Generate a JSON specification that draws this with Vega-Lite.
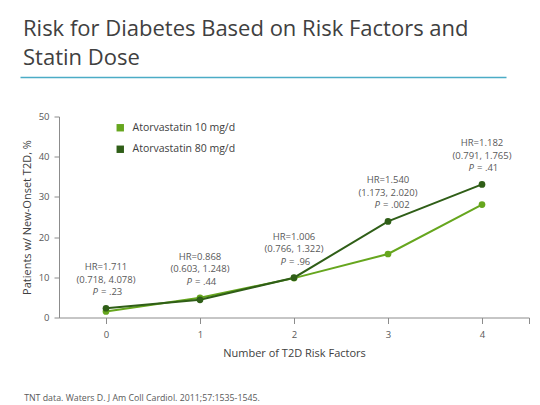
{
  "$schema": "https://vega.github.io/schema/vega-lite/v6.json",
  "background": "white",
  "padding": {"left": 20, "top": 18, "right": 5, "bottom": 0},
  "config": {
    "view": {"stroke": null},
    "font": "Open Sans",
    "axis": {"labelFont": "Open Sans", "titleFont": "Open Sans", "grid": false}
  },
  "datasets": {
    "rates": [
      {"x": 0, "series": "Atorvastatin 10 mg/d", "value": 1.5},
      {"x": 1, "series": "Atorvastatin 10 mg/d", "value": 4.9},
      {"x": 2, "series": "Atorvastatin 10 mg/d", "value": 9.8},
      {"x": 3, "series": "Atorvastatin 10 mg/d", "value": 15.8},
      {"x": 4, "series": "Atorvastatin 10 mg/d", "value": 28.1},
      {"x": 0, "series": "Atorvastatin 80 mg/d", "value": 2.3},
      {"x": 1, "series": "Atorvastatin 80 mg/d", "value": 4.4},
      {"x": 2, "series": "Atorvastatin 80 mg/d", "value": 9.9},
      {"x": 3, "series": "Atorvastatin 80 mg/d", "value": 23.9},
      {"x": 4, "series": "Atorvastatin 80 mg/d", "value": 33.1}
    ],
    "hr": [
      {"x": 0, "hr": "HR=1.711", "ci": "(0.718, 4.078)", "p": "= .23"},
      {"x": 1, "hr": "HR=0.868", "ci": "(0.603, 1.248)", "p": "= .44"},
      {"x": 2, "hr": "HR=1.006", "ci": "(0.766, 1.322)", "p": "= .96"},
      {"x": 3, "hr": "HR=1.540", "ci": "(1.173, 2.020)", "p": "= .002"},
      {"x": 4, "hr": "HR=1.182", "ci": "(0.791, 1.765)", "p": "= .41"}
    ],
    "divider": [{"v": 0}]
  },
  "spacing": 34.5,
  "resolve": {"scale": {"color": "independent"}, "legend": {"color": "independent"}},
  "vconcat": [
    {
      "title": {
        "text": ["Risk for Diabetes Based on Risk Factors and", "Statin Dose"],
        "anchor": "start", "dx": 3, "fontSize": 22, "fontWeight": "normal",
        "color": "#404040", "lineHeight": 28.5, "offset": 6.5
      },
      "width": 447,
      "height": 1,
      "data": {"name": "divider"},
      "mark": {"type": "rule", "opacity": 0},
      "encoding": {
        "x": {
          "field": "v", "type": "quantitative", "scale": {"domain": [0, 1], "range": [-39, 447]},
          "axis": {"domainColor": "#4bacc6", "domainWidth": 1.5, "ticks": false, "labels": false, "title": null}
        }
      }
    },
    {
      "width": 470,
      "height": 201,
      "data": {"name": "rates"},
      "title": {
        "text": "TNT data. Waters D. J Am Coll Cardiol. 2011;57:1535-1545.",
        "orient": "bottom", "anchor": "start", "frame": "bounds", "dx": 3,
        "fontSize": 8.8, "fontWeight": "normal", "color": "#595959", "offset": 36
      },
      "encoding": {
        "x": {
          "field": "x", "type": "quantitative",
          "scale": {"domain": [-0.5, 4.5], "nice": false, "zero": false},
          "axis": {
            "values": [0, 1, 2, 3, 4, 4.5],
            "labelExpr": "datum.value == 4.5 ? '' : datum.label",
            "format": "d", "title": "Number of T2D Risk Factors",
            "titleFontSize": 11, "titleFontWeight": "normal", "titleColor": "#404040", "titlePadding": 8,
            "labelFontSize": 9.5, "labelColor": "#595959", "labelPadding": 6,
            "domainColor": "#8c8c8c", "tickColor": "#8c8c8c", "tickSize": 6
          }
        },
        "y": {
          "field": "value", "type": "quantitative",
          "scale": {"domain": [0, 50], "nice": false},
          "axis": {
            "values": [0, 10, 20, 30, 40, 50],
            "title": "Patients w/ New-Onset T2D, %",
            "titleFontSize": 11, "titleFontWeight": "normal", "titleColor": "#404040", "titlePadding": 6,
            "labelFontSize": 9.5, "labelColor": "#595959", "labelPadding": 5,
            "domainColor": "#8c8c8c", "tickColor": "#8c8c8c", "tickSize": 5
          }
        }
      },
      "layer": [
        {
          "mark": {"type": "line", "strokeWidth": 2},
          "encoding": {
            "color": {
              "field": "series", "type": "nominal",
              "scale": {"domain": ["Atorvastatin 10 mg/d", "Atorvastatin 80 mg/d"], "range": ["#66a61e", "#2f5e17"]},
              "legend": {
                "orient": "none", "legendX": 56, "legendY": 6, "title": null,
                "symbolType": "square", "symbolSize": 55, "symbolStrokeWidth": 0, "symbolOpacity": 1,
                "labelFontSize": 10.5, "labelColor": "#404040", "labelOffset": 7, "rowPadding": 10.5
              }
            }
          }
        },
        {
          "mark": {"type": "point", "filled": true, "size": 45, "opacity": 1},
          "encoding": {
            "color": {"field": "series", "type": "nominal"}
          }
        },
        {
          "transform": [
            {"aggregate": [{"op": "max", "field": "value", "as": "value"}], "groupby": ["x"]},
            {"lookup": "x", "from": {"data": {"name": "hr"}, "key": "x", "fields": ["hr", "ci", "p"]}}
          ],
          "layer": [
            {
              "mark": {"type": "text", "fontSize": 9.5, "color": "#595959", "baseline": "middle", "dy": -41},
              "encoding": {"text": {"field": "hr"}}
            },
            {
              "mark": {"type": "text", "fontSize": 9.5, "color": "#595959", "baseline": "middle", "dy": -28.5},
              "encoding": {"text": {"field": "ci"}}
            },
            {
              "mark": {"type": "text", "fontSize": 9.5, "color": "#595959", "baseline": "middle", "dy": -16, "align": "right", "dx": -8, "fontStyle": "italic"},
              "encoding": {"text": {"value": "P"}}
            },
            {
              "mark": {"type": "text", "fontSize": 9.5, "color": "#595959", "baseline": "middle", "dy": -16, "align": "left", "dx": -5},
              "encoding": {"text": {"field": "p"}}
            }
          ]
        }
      ]
    }
  ]
}
